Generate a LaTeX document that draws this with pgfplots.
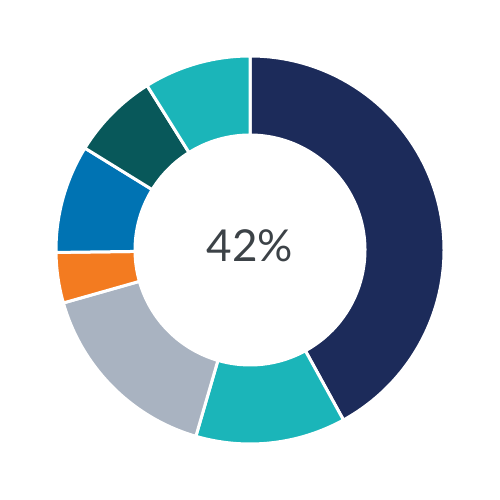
\documentclass[border=0pt]{standalone}
\usepackage{pgfplots}
\pgfplotsset{compat=1.18}
\usepackage{fontspec}
\setmainfont{Lato}
\definecolor{cnavy}{HTML}{1C2B5A}
\definecolor{cteal}{HTML}{1BB5B9}
\definecolor{cgray}{HTML}{A9B3C1}
\definecolor{corange}{HTML}{F37B20}
\definecolor{cblue}{HTML}{0073B3}
\definecolor{cgreen}{HTML}{08585A}
\definecolor{ctext}{HTML}{3C4247}
\begin{document}
\begin{tikzpicture}
\begin{axis}[
    x=1pt, y=1pt,
    xmin=-250, xmax=250,
    ymin=-250, ymax=250,
    hide axis,
    clip=false
]
\path (axis cs:-250,-250) rectangle (axis cs:250,250);
\def\Ro{194}
\def\Ri{115}
\gdef\acc{0}
% shares in percent, clockwise from the top
\foreach \p/\c in {42.0/cnavy, 12.5/cteal, 16.1/cgray, 4.2/corange, 9.0/cblue, 7.3/cgreen, 8.9/cteal}{
    \pgfmathsetmacro\aS{90-3.6*\acc}
    \pgfmathsetmacro\aE{90-3.6*(\acc+\p)}
    \pgfmathsetmacro\nacc{\acc+\p}
    \xdef\acc{\nacc}
    \edef\temp{\noexpand\path[fill=\c, draw=white, line width=3pt]
        (axis cs:{\Ro*cos(\aS)},{\Ro*sin(\aS)})
        arc[start angle=\aS, end angle=\aE, radius=\Ro]
        -- (axis cs:{\Ri*cos(\aE)},{\Ri*sin(\aE)})
        arc[start angle=\aE, end angle=\aS, radius=\Ri] -- cycle;}
    \temp
}
\node[font=\fontsize{44}{52}\selectfont, text=ctext] at (axis cs:0,4) {42\%};
\end{axis}
\end{tikzpicture}
\end{document}
